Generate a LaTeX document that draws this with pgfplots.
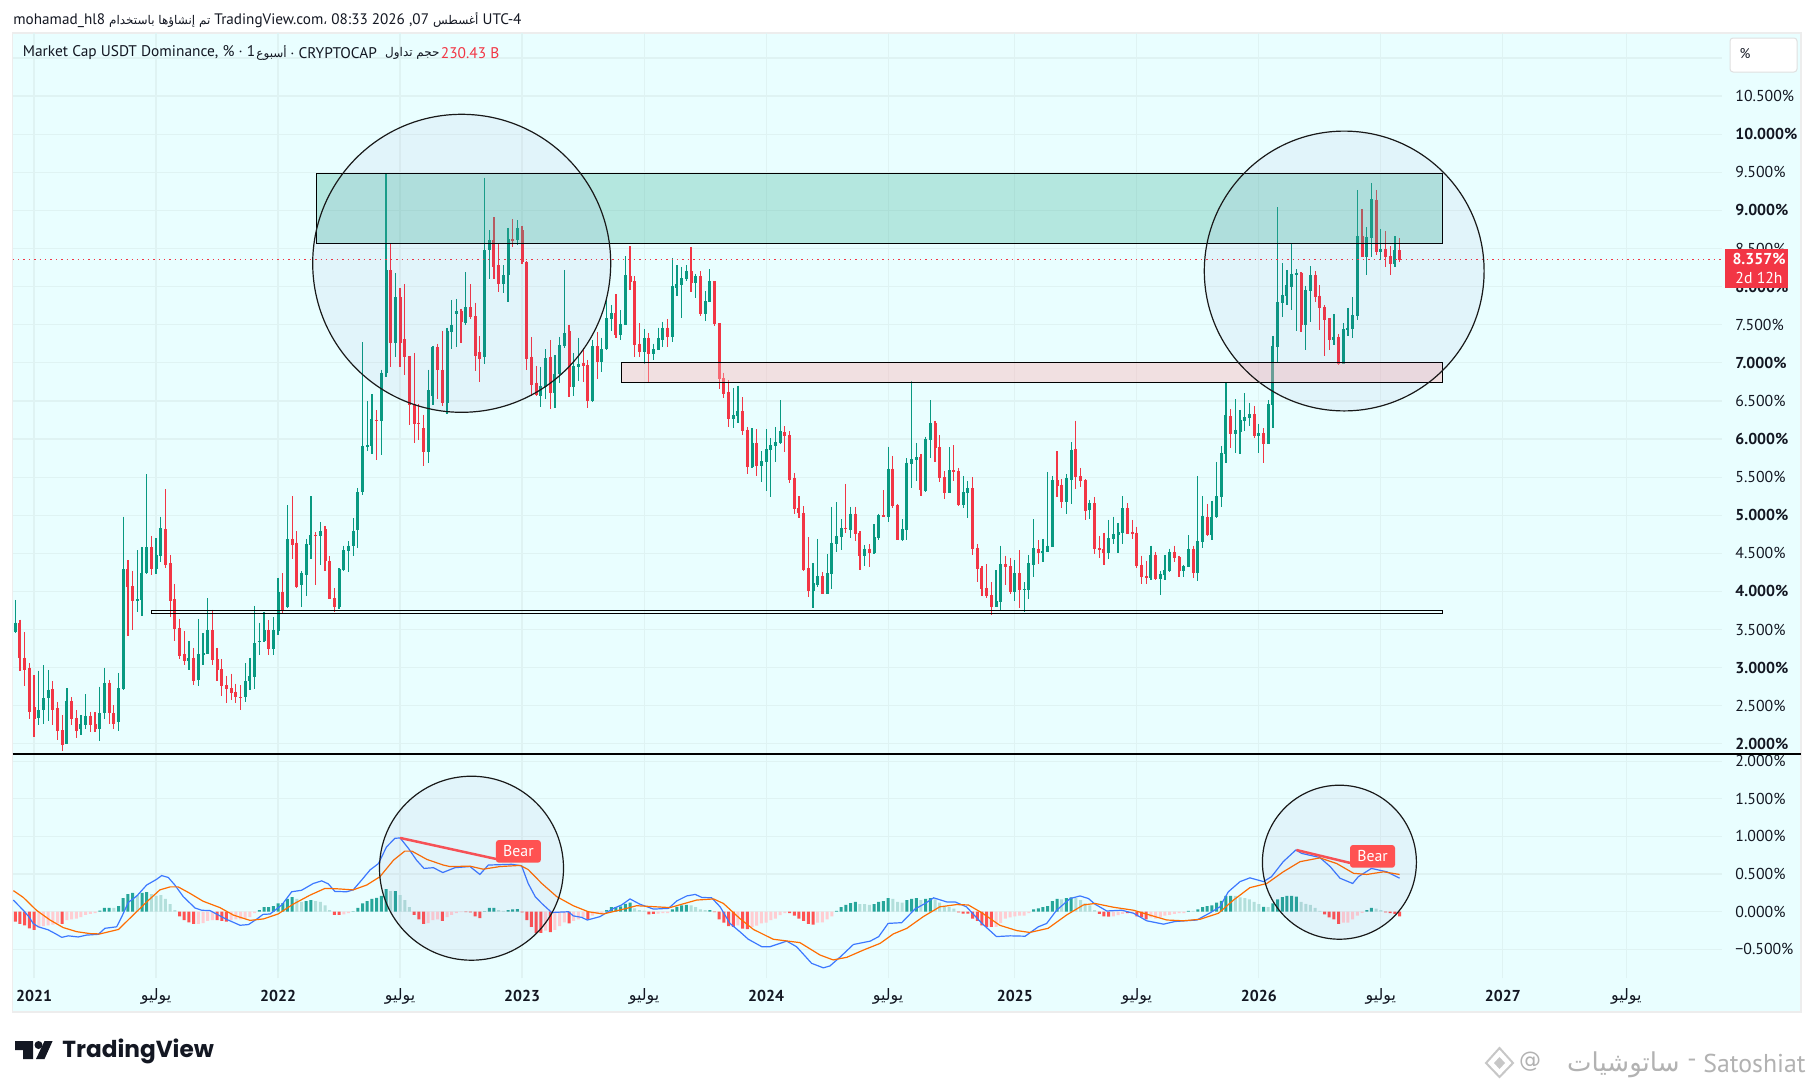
\documentclass[border=0pt]{standalone}
\usepackage{fontspec}
\usepackage{pgfplots}
\usepackage{pgfplotstable}
\pgfplotsset{compat=1.18}
\setmainfont{PT Sans}
\newfontfamily\arabicfont[Script=Arabic]{DejaVu Sans}
\newfontfamily\logofont{Poppins}
\TeXXeTstate=1
\newcommand\ar[1]{{\arabicfont\beginR #1\endR}}
\definecolor{panebg}{RGB}{233,254,255}
\definecolor{gridc}{RGB}{223,243,243}
\definecolor{cup}{RGB}{8,153,129}
\definecolor{cdn}{RGB}{242,54,69}
\definecolor{hgs}{RGB}{38,166,154}
\definecolor{hgl}{RGB}{178,223,219}
\definecolor{hrs}{RGB}{255,82,82}
\definecolor{hrl}{RGB}{255,205,210}
\definecolor{macdb}{RGB}{60,120,255}
\definecolor{macdo}{RGB}{255,109,0}
\definecolor{tealz}{RGB}{60,180,151}
\definecolor{pinkz}{RGB}{255,179,182}
\definecolor{circ}{RGB}{93,74,175}
\definecolor{txt}{RGB}{19,23,34}
\pgfplotstableread{
i h t b l
0 3.89 3.59 3.47 3.45
5 2.96 2.44 2.34 2.25
6 3.03 2.60 2.44 2.26
7 2.97 2.71 2.60 2.30
11 2.73 2.56 2.00 2.00
14 2.38 2.26 2.19 2.12
15 2.65 2.37 2.25 2.20
18 2.75 2.40 2.20 2.04
19 3.00 2.80 2.40 2.33
22 2.93 2.73 2.28 2.17
23 4.98 4.29 2.72 2.70
26 4.54 3.90 3.87 3.73
27 4.58 4.24 3.89 3.68
28 5.54 4.58 4.24 4.23
30 4.70 4.48 4.30 4.23
31 4.98 4.83 4.47 4.39
37 3.35 3.13 3.09 2.97
39 3.64 3.18 2.84 2.76
40 3.45 3.19 3.17 3.03
41 3.91 3.49 3.18 3.18
49 3.06 2.82 2.61 2.55
50 3.13 2.89 2.82 2.71
51 3.81 3.32 2.88 2.72
52 3.59 3.35 3.34 3.16
53 3.73 3.49 3.35 3.34
55 3.66 3.49 3.25 3.17
56 4.18 3.99 3.48 3.43
58 5.13 4.69 3.79 3.78
61 4.27 4.24 4.08 3.79
62 4.69 4.62 4.22 3.94
63 5.25 4.74 4.61 4.42
65 4.91 4.79 4.73 4.34
69 4.31 4.29 3.80 3.77
70 4.60 4.54 4.28 4.27
71 4.66 4.60 4.53 4.25
72 4.96 4.79 4.59 4.46
73 5.36 5.30 4.80 4.57
74 7.27 5.91 5.30 5.26
75 6.50 5.92 5.90 5.84
76 6.59 6.26 5.91 5.80
78 6.91 6.87 6.23 5.79
79 9.49 8.22 6.87 6.81
81 8.18 7.86 7.26 7.07
88 6.91 6.64 5.83 5.69
89 7.22 7.21 6.57 6.45
92 7.46 7.42 6.47 6.33
93 7.82 7.50 7.40 7.18
94 7.84 7.68 7.64 7.21
96 8.19 7.73 7.52 7.50
100 9.43 8.48 7.07 6.98
101 8.74 8.61 8.48 8.10
104 8.28 8.15 8.03 7.92
105 8.77 8.62 8.15 7.80
107 8.87 8.77 8.61 8.54
112 6.95 6.70 6.57 6.42
113 7.18 7.06 6.68 6.53
115 7.10 6.85 6.60 6.41
116 7.34 7.23 6.85 6.74
117 8.22 7.39 7.22 7.19
119 7.13 6.96 6.68 6.57
120 7.33 6.99 6.95 6.76
123 7.30 7.22 6.50 6.49
125 7.33 7.18 7.01 6.88
126 7.85 7.59 7.18 7.17
127 7.76 7.65 7.57 7.42
129 7.69 7.51 7.36 7.30
130 8.40 8.15 7.50 7.49
134 7.44 7.33 7.14 6.99
136 7.25 7.18 7.12 7.04
137 7.46 7.33 7.17 7.17
138 7.54 7.46 7.30 7.21
140 8.37 8.01 7.34 7.27
141 8.28 8.03 7.98 7.88
142 8.26 8.11 8.02 7.59
143 8.28 8.20 8.10 8.07
145 8.17 8.14 8.05 7.85
147 7.94 7.81 7.64 7.55
148 8.23 8.07 7.80 7.80
153 6.67 6.31 6.26 6.14
154 6.70 6.37 6.30 6.21
157 6.14 5.95 5.63 5.62
159 5.84 5.71 5.65 5.44
160 6.13 5.87 5.70 5.32
161 6.01 5.92 5.86 5.24
162 6.16 5.96 5.91 5.70
163 6.51 6.10 5.95 5.93
170 4.37 4.11 4.01 3.78
171 4.69 4.20 4.08 4.06
173 4.49 4.24 3.97 3.97
174 5.11 4.64 4.23 4.03
175 5.17 4.73 4.62 4.52
176 4.95 4.83 4.71 4.54
178 5.11 5.02 4.81 4.70
181 4.61 4.56 4.47 4.33
183 4.88 4.71 4.50 4.49
184 5.02 5.00 4.70 4.67
186 5.90 5.61 4.98 4.91
189 4.95 4.82 4.67 4.66
190 5.75 5.69 4.81 4.67
191 6.76 5.74 5.67 5.36
192 5.95 5.76 5.72 5.45
194 6.03 6.00 5.32 5.30
195 6.51 6.21 5.99 5.75
199 5.89 5.59 5.29 5.29
202 5.51 5.30 5.13 5.09
203 5.45 5.36 5.29 4.96
209 4.28 3.87 3.80 3.80
210 4.60 4.36 3.86 3.76
213 4.41 4.24 3.99 3.87
215 4.12 4.03 4.02 3.73
216 4.48 4.37 4.02 3.90
217 4.95 4.57 4.35 4.19
219 4.69 4.53 4.50 4.39
220 5.57 4.60 4.52 4.52
221 5.51 5.46 4.58 4.58
224 5.54 5.49 5.17 5.02
225 5.96 5.86 5.46 5.15
229 5.20 5.16 5.07 4.95
233 4.94 4.70 4.50 4.43
234 4.98 4.75 4.69 4.62
235 4.90 4.78 4.74 4.50
236 5.25 5.09 4.77 4.62
242 4.60 4.48 4.18 4.15
244 4.27 4.23 4.16 3.95
245 4.48 4.28 4.22 4.15
246 4.56 4.52 4.27 4.26
249 4.35 4.33 4.27 4.19
250 4.74 4.56 4.32 4.32
252 5.51 4.66 4.24 4.14
253 5.25 4.99 4.65 4.57
255 5.19 4.98 4.74 4.68
256 5.70 5.25 4.97 4.96
257 5.91 5.82 5.24 5.11
258 6.75 6.32 5.80 5.69
260 6.52 6.12 6.07 5.82
261 6.38 6.25 6.09 5.80
262 6.60 6.29 6.24 6.11
263 6.47 6.33 6.28 6.17
265 6.20 6.08 6.04 5.82
267 6.51 6.46 5.93 5.93
268 7.35 7.22 6.45 6.14
269 9.04 7.80 7.21 7.00
270 8.31 7.89 7.78 7.60
271 8.22 8.02 7.88 7.76
272 8.57 8.17 7.99 7.69
273 8.23 8.18 8.15 7.42
275 8.01 7.96 7.50 7.17
276 8.27 8.15 7.94 7.54
281 7.64 7.34 7.30 7.23
283 7.52 7.44 6.98 6.98
284 7.72 7.46 7.43 7.35
285 7.86 7.63 7.44 7.33
286 9.27 8.66 7.61 7.56
288 8.78 8.65 8.39 8.15
289 9.36 9.15 8.64 8.39
291 8.76 8.49 8.45 8.35
294 8.66 8.48 8.30 8.26
}\candup
\pgfplotstableread{
i h t b l
1 3.63 3.59 3.12 2.96
2 3.47 3.13 2.97 2.76
3 3.06 3.00 2.42 2.32
4 2.90 2.48 2.33 2.09
8 2.82 2.72 2.45 2.25
9 2.55 2.47 2.17 2.05
10 2.38 2.18 1.99 1.91
12 2.61 2.56 2.33 2.25
13 2.44 2.34 2.17 2.07
16 2.42 2.37 2.25 2.16
17 2.42 2.26 2.20 2.16
20 2.84 2.80 2.40 2.26
21 2.51 2.40 2.26 2.20
24 4.41 4.29 4.06 3.42
25 4.27 4.07 3.87 3.50
29 4.73 4.58 4.30 4.22
32 5.34 4.82 4.35 4.31
33 4.48 4.37 3.88 3.66
34 4.10 3.90 3.51 3.35
35 3.64 3.52 3.15 3.11
36 3.48 3.18 3.09 3.03
38 3.26 3.13 2.82 2.77
42 3.76 3.49 3.10 3.04
43 3.26 3.11 2.97 2.82
44 3.11 2.98 2.76 2.63
45 2.89 2.77 2.72 2.53
46 2.92 2.73 2.67 2.58
47 2.79 2.68 2.61 2.53
48 2.77 2.61 2.60 2.45
54 3.62 3.49 3.25 3.17
57 4.24 3.99 3.76 3.71
59 5.25 4.69 4.61 4.43
60 4.79 4.64 4.06 4.05
64 4.78 4.74 4.73 4.08
66 4.86 4.82 4.40 4.27
67 4.46 4.40 3.90 3.90
68 4.04 3.91 3.80 3.73
77 6.38 6.25 6.23 5.72
80 8.57 8.22 7.26 6.94
82 7.98 7.86 7.26 6.95
83 8.03 7.31 7.08 6.84
84 7.09 7.09 6.45 6.18
85 7.13 6.46 6.20 5.95
86 6.46 6.21 6.20 5.99
87 6.32 6.14 5.83 5.65
90 7.25 7.21 6.90 6.53
91 7.42 6.91 6.47 6.43
95 7.71 7.68 7.54 7.26
97 8.03 7.73 7.60 7.57
98 7.79 7.61 7.09 6.89
99 7.35 7.14 7.05 6.75
102 8.91 8.61 8.26 8.10
103 8.56 8.28 8.03 7.93
106 8.89 8.62 8.60 8.52
108 8.80 8.74 8.32 8.30
109 8.33 8.32 7.05 6.90
110 7.34 7.08 6.71 6.56
111 6.96 6.74 6.58 6.57
114 7.30 7.08 6.60 6.39
118 7.50 7.42 6.68 6.55
121 7.19 7.00 6.96 6.75
122 7.04 6.97 6.50 6.41
124 7.40 7.22 7.01 6.79
128 7.90 7.65 7.36 7.33
131 8.53 8.14 8.06 7.96
132 8.14 8.07 7.23 7.08
133 7.52 7.25 7.14 7.08
135 7.39 7.33 7.12 6.73
139 7.57 7.46 7.34 7.21
144 8.52 8.20 8.05 7.93
146 8.20 8.14 7.64 7.61
149 8.07 8.07 7.51 7.48
150 7.52 7.52 6.79 6.66
151 6.87 6.80 6.59 6.54
152 6.77 6.62 6.26 6.16
155 6.55 6.37 6.10 6.05
156 6.16 6.12 5.63 5.54
158 6.13 5.95 5.65 5.51
164 6.17 6.09 6.04 5.83
165 6.10 6.05 5.46 5.42
166 5.55 5.49 5.08 5.02
167 5.25 5.09 5.03 4.96
168 5.12 5.03 4.28 4.27
169 4.71 4.31 4.01 3.93
172 4.25 4.20 3.97 3.97
177 5.41 4.83 4.82 4.77
179 5.11 5.02 4.75 4.66
180 4.79 4.77 4.47 4.28
182 4.62 4.56 4.50 4.32
185 5.33 5.00 4.98 4.98
187 5.78 5.61 5.12 5.10
188 5.15 5.13 4.67 4.67
193 5.80 5.76 5.33 5.25
196 6.24 6.21 5.88 5.70
197 6.05 5.89 5.49 5.44
198 5.58 5.50 5.29 5.21
200 5.92 5.59 5.57 5.45
201 5.62 5.58 5.13 5.12
204 5.50 5.36 4.56 4.48
205 4.62 4.57 4.29 4.12
206 4.33 4.31 4.03 3.94
207 4.36 4.04 3.94 3.91
208 4.12 3.95 3.80 3.69
211 4.47 4.36 4.32 4.08
212 4.44 4.33 3.99 3.97
214 4.54 4.24 4.02 3.78
218 4.67 4.56 4.50 4.36
222 5.84 5.46 5.38 5.24
223 5.47 5.40 5.17 5.09
226 6.24 5.87 5.50 5.34
227 5.62 5.51 5.45 5.37
228 5.47 5.46 5.06 4.94
230 5.24 5.16 4.56 4.49
231 4.73 4.57 4.54 4.44
232 4.77 4.56 4.50 4.35
237 5.16 5.09 4.75 4.75
238 4.94 4.78 4.75 4.69
239 4.85 4.77 4.33 4.31
240 4.47 4.35 4.19 4.10
241 4.40 4.20 4.18 4.10
243 4.52 4.48 4.16 4.15
247 4.60 4.52 4.44 4.39
248 4.47 4.45 4.27 4.19
251 4.60 4.56 4.24 4.18
254 5.15 4.98 4.74 4.73
259 6.39 6.30 6.07 5.88
264 6.43 6.33 6.04 6.01
266 6.14 6.08 5.93 5.69
274 8.19 8.18 7.50 7.40
277 8.20 8.15 7.86 7.80
278 8.02 7.88 7.72 7.43
279 7.76 7.73 7.56 7.09
280 7.59 7.59 7.30 7.17
282 7.38 7.34 6.98 6.97
287 9.02 8.66 8.39 8.39
290 9.27 9.14 8.45 8.41
292 8.73 8.49 8.39 8.26
293 8.53 8.40 8.30 8.15
295 8.64 8.48 8.35 8.32
}\canddn
\pgfplotsset{
  tvaxis/.style={
    scale only axis, width=854.65pt,
    xmin=-0.554, xmax=363.71,
    enlargelimits=false, clip=true,
    axis line style={draw=none}, major tick length=0pt,
    xtick={4,30,56,82,108,134,160,186,213,239,265,291,317,343.3},
    xmajorgrids, ymajorgrids,
    grid style={gridc,line width=0.6pt},
    yticklabel pos=right,
    yticklabel style={anchor=west,inner sep=0pt,xshift=6.5pt,text=txt,font=\fontsize{7.9}{9}\selectfont},
  },
  wick/.style={draw=none,mark=none,forget plot,error bars/.cd,y dir=minus,y explicit,error mark=none,error bar style={solid,line width=0.6pt,#1}},
  body/.style={draw=none,mark=none,forget plot,error bars/.cd,y dir=minus,y explicit,error mark=none,error bar style={solid,line width=1.5pt,#1}},
  hbar/.style={ybar,bar width=1.5pt,bar shift=0pt,draw=none,fill=#1,forget plot},
}
\begin{document}
\begin{tikzpicture}
\path[use as bounding box] (0,0) rectangle (907pt,-544pt);
\fill[white] (0,0) rectangle (907pt,-544pt);
\begin{scope}[x=0.5pt,y=-0.5pt]
\fill[panebg] (12.7,33) rectangle (1801,1012);
\draw[black!7,line width=0.6pt] (12.7,33) rectangle (1801,1012);
\end{scope}
% price pane
\begin{axis}[tvaxis,at={(6.35pt,-16.5pt)},anchor=north west,height=360pt,
  ymin=1.879,ymax=11.328,xticklabels={},
  ytick={2,2.5,...,11},
  yticklabels={\textbf{2.000\%},2.500\%,\textbf{3.000\%},3.500\%,\textbf{4.000\%},4.500\%,\textbf{5.000\%},5.500\%,\textbf{6.000\%},6.500\%,\textbf{7.000\%},7.500\%,\textbf{8.000\%},8.500\%,\textbf{9.000\%},9.500\%,\textbf{10.000\%},10.500\%,{}},
]
\addplot[wick=cup] table[x=i,y=h,y error minus expr=\thisrow{h}-\thisrow{l}] {\candup};
\addplot[wick=cdn] table[x=i,y=h,y error minus expr=\thisrow{h}-\thisrow{l}] {\canddn};
\addplot[body=cup] table[x=i,y=t,y error minus expr=\thisrow{t}-\thisrow{b}] {\candup};
\addplot[body=cdn] table[x=i,y=t,y error minus expr=\thisrow{t}-\thisrow{b}] {\canddn};
\addplot[cdn,line width=0.5pt,dash pattern=on 0.7pt off 2pt,forget plot] coordinates {(-0.554,8.357) (363.71,8.357)};
\draw[black,line width=0.55pt,fill=tealz,fill opacity=0.3] (axis cs:64.15,9.49) rectangle (axis cs:304.1,8.57);
\draw[black,line width=0.55pt,fill=pinkz,fill opacity=0.4] (axis cs:129.1,7.0) rectangle (axis cs:304.1,6.74);
\draw[black,line width=0.55pt] (axis cs:29.0,3.752) rectangle (axis cs:304.1,3.713);
\end{axis}
% MACD pane
\begin{axis}[tvaxis,at={(6.35pt,-377.5pt)},anchor=north west,height=111.5pt,
  ymin=-0.880,ymax=2.081,
  ytick={-0.5,0,0.5,1,1.5,2},
  yticklabels={−0.500\%,0.000\%,0.500\%,1.000\%,1.500\%,2.000\%},
  xticklabels={\textbf{2021},\ar{يوليو},\textbf{2022},\ar{يوليو},\textbf{2023},\ar{يوليو},\textbf{2024},\ar{يوليو},\textbf{2025},\ar{يوليو},\textbf{2026},\ar{يوليو},\textbf{2027},\ar{يوليو}},
  xticklabel style={anchor=center,yshift=-9pt,text=txt,font=\fontsize{7.9}{9}\selectfont},
]
\addplot[hbar=hrs] coordinates {(0,-.13)(1,-.16)(2,-.18)(3,-.22)(4,-.24)(10,-.16)(35,-.06)(36,-.11)(37,-.14)(38,-.16)(43,-.11)(44,-.12)(45,-.13)(68,-.04)(69,-.04)(85,-.04)(86,-.10)(87,-.16)(91,-.12)(96,-.005)(97,-.01)(98,-.06)(99,-.085)(108,-.01)(109,-.11)(110,-.20)(111,-.28)(112,-.28)(114,-.27)(118,-.155)(122,-.10)(135,-.035)(136,-.03)(149,-.005)(150,-.10)(151,-.145)(152,-.19)(153,-.20)(155,-.225)(156,-.23)(165,-.02)(166,-.05)(167,-.09)(168,-.12)(169,-.16)(170,-.17)(201,-.01)(202,-.025)(203,-.025)(204,-.09)(205,-.12)(206,-.18)(207,-.20)(208,-.20)(231,-.03)(232,-.06)(233,-.065)(237,-.02)(239,-.06)(240,-.075)(241,-.10)(279,-.035)(280,-.075)(281,-.10)(282,-.16)(292,-.01)(293,-.02)(294,-.03)(295,-.06)};
\addplot[hbar=hrl] coordinates {(5,-.21)(6,-.19)(7,-.18)(8,-.17)(9,-.155)(11,-.11)(12,-.10)(13,-.09)(14,-.07)(15,-.04)(16,-.03)(17,-.02)(39,-.16)(40,-.15)(41,-.12)(42,-.11)(46,-.11)(47,-.10)(48,-.10)(49,-.09)(50,-.07)(51,-.02)(70,-.035)(71,-.02)(88,-.15)(89,-.11)(90,-.10)(92,-.07)(93,-.04)(94,-.02)(95,-.005)(113,-.25)(115,-.24)(116,-.19)(117,-.14)(119,-.12)(120,-.10)(121,-.07)(123,-.05)(124,-.03)(125,-.02)(137,-.025)(138,-.02)(139,-.02)(154,-.18)(157,-.20)(158,-.185)(159,-.155)(160,-.145)(161,-.11)(162,-.09)(163,-.045)(164,-.02)(171,-.145)(172,-.14)(173,-.10)(174,-.06)(209,-.20)(210,-.15)(211,-.09)(212,-.075)(213,-.06)(214,-.05)(215,-.05)(216,-.02)(234,-.06)(235,-.045)(236,-.03)(238,-.02)(242,-.075)(243,-.09)(244,-.075)(245,-.05)(246,-.04)(247,-.03)(248,-.02)(249,-.02)(283,-.145)(284,-.145)(285,-.10)(286,-.05)(287,-.015)};
\addplot[hbar=hgs] coordinates {(18,.015)(19,.05)(20,.05)(22,.075)(23,.18)(24,.235)(25,.25)(27,.25)(28,.26)(52,.02)(53,.06)(54,.06)(55,.075)(56,.11)(57,.115)(58,.17)(59,.195)(62,.14)(63,.155)(72,.005)(73,.05)(74,.11)(75,.14)(76,.17)(77,.185)(78,.21)(79,.30)(81,.275)(100,.005)(101,.05)(102,.05)(105,.02)(106,.03)(107,.035)(126,.02)(127,.06)(128,.06)(129,.07)(130,.105)(131,.12)(140,.03)(141,.065)(142,.085)(143,.09)(148,.02)(175,.01)(176,.06)(177,.09)(178,.115)(179,.13)(183,.10)(184,.13)(185,.14)(186,.18)(190,.155)(191,.17)(192,.18)(194,.17)(195,.18)(217,.03)(218,.045)(219,.06)(220,.075)(221,.14)(222,.17)(224,.18)(225,.19)(250,.01)(252,.03)(253,.06)(254,.075)(255,.085)(256,.12)(257,.145)(258,.21)(259,.21)(266,.065)(268,.11)(269,.165)(270,.195)(271,.21)(272,.21)(273,.20)(288,.02)(289,.05)};
\addplot[hbar=hgl] coordinates {(21,.05)(26,.22)(29,.235)(30,.21)(31,.22)(32,.17)(33,.10)(34,.02)(60,.17)(61,.13)(64,.14)(65,.13)(66,.085)(67,.02)(80,.275)(82,.22)(83,.155)(84,.06)(103,.02)(104,.01)(132,.045)(133,.02)(134,.015)(144,.085)(145,.06)(146,.03)(147,.02)(180,.10)(181,.10)(182,.09)(187,.17)(188,.13)(189,.12)(193,.155)(196,.165)(197,.12)(198,.075)(199,.06)(200,.04)(223,.165)(226,.18)(227,.155)(228,.11)(229,.085)(230,.02)(251,.01)(260,.21)(261,.19)(262,.18)(263,.165)(264,.13)(265,.10)(267,.06)(274,.13)(275,.105)(276,.09)(277,.05)(278,.01)(290,.04)(291,.02)};
\addplot[macdb,line width=0.6pt,forget plot] coordinates {(-.43,.155)(1.7,.02)(3,-.075)(3.8,-.155)(4.9,-.20)(7,-.24)(8.5,-.29)(9.9,-.34)(11.3,-.32)(13.4,-.335)(15.2,-.31)(17.7,-.30)(19.1,-.22)(21.6,-.20)(22.7,-.065)(24.1,.125)(25.9,.21)(28,.355)(30.1,.43)(31.2,.48)(32.6,.455)(34,.355)(35.8,.20)(38.3,.05)(39.7,.02)(41.5,.015)(45,-.10)(47.9,-.18)(49.7,-.17)(51.4,-.10)(52.8,-.035)(54.3,-.03)(56.8,.09)(58.9,.265)(61,.285)(63.5,.375)(65.3,.41)(66.7,.37)(68.1,.27)(70.6,.265)(72,.29)(73.8,.42)(75.6,.555)(77.4,.64)(79.1,.86)(80.9,.975)(82,.98)(83.8,.84)(85.5,.685)(87.1,.575)(89.1,.585)(91.1,.52)(93.7,.585)(96.9,.60)(99,.495)(100.8,.62)(103.3,.625)(105.8,.63)(107.9,.61)(109.3,.375)(110.8,.20)(112.2,.11)(114.3,-.01)(117.9,0)(118.9,-.055)(120.7,-.075)(121.9,-.11)(124.6,-.065)(127.5,.045)(129.2,.09)(131,.17)(133.1,.10)(136,.035)(139.2,.045)(141,.145)(143.1,.21)(144.9,.23)(146.3,.19)(148.4,.185)(150.2,.065)(152.3,-.155)(154.4,-.265)(156.2,-.365)(159.1,-.465)(160.8,-.465)(164.4,-.39)(166.5,-.465)(169.7,-.685)(172.2,-.745)(173.6,-.72)(175.8,-.60)(178.6,-.435)(182.2,-.39)(184,-.33)(186,-.155)(188.9,-.145)(191.7,.035)(193.9,.11)(195.7,.185)(198.5,.13)(200.3,.13)(202.7,.065)(206,-.155)(209.1,-.33)(212,-.32)(215.2,-.325)(218,-.20)(219.8,-.155)(221.9,.02)(224.8,.175)(226.9,.21)(228.7,.175)(230.1,.10)(232.6,.01)(235.8,.02)(238.3,-.02)(241.1,-.12)(244.7,-.165)(247.1,-.13)(251.8,-.11)(254.6,-.015)(256.7,.065)(258.5,.265)(261,.40)(263.1,.45)(266,.40)(267.7,.465)(270.2,.665)(272.9,.82)(274.1,.775)(278,.72)(280.2,.60)(282.3,.445)(285,.375)(286.2,.465)(289,.575)(292.3,.53)(295,.445)};
\addplot[macdo,line width=0.6pt,forget plot] coordinates {(-.4,.28)(1.7,.19)(4.5,.02)(7.4,-.11)(10.2,-.21)(13.1,-.265)(15.9,-.29)(18,-.295)(22,-.235)(25.1,-.045)(28,.13)(30.8,.29)(33,.33)(34.7,.33)(37.2,.245)(40,.14)(43.6,.055)(46.5,-.045)(50,-.115)(52.9,-.095)(56,-.03)(59.2,.10)(62.8,.22)(66,.31)(68.5,.305)(72,.29)(74.9,.355)(77.7,.465)(80.6,.685)(83,.805)(84.5,.805)(87.7,.695)(91.2,.62)(92.6,.60)(96.9,.605)(99.7,.565)(103.3,.60)(107.6,.615)(109.3,.56)(112.2,.375)(115.4,.20)(118.9,.08)(122.1,0)(125.3,-.03)(130.3,.045)(132.4,.08)(139.5,.055)(145.2,.155)(148.8,.17)(150.9,.11)(154.4,-.09)(157.3,-.235)(161.5,-.365)(167.2,-.41)(171.5,-.575)(174.3,-.64)(177.2,-.605)(180.7,-.51)(184.3,-.42)(187.1,-.295)(190,-.22)(193.5,-.065)(197,.065)(200.6,.095)(203.1,.09)(206,-.015)(209.8,-.18)(213.4,-.25)(216.2,-.275)(220.1,-.22)(224,-.045)(227.6,.09)(230.1,.11)(234,.06)(238.3,.02)(241.8,-.045)(245.4,-.11)(248.9,-.12)(252.5,-.10)(256.4,-.02)(259.6,.155)(263.1,.32)(266.7,.375)(270.2,.53)(273.8,.665)(278,.715)(281.6,.64)(285.2,.51)(288,.495)(291.6,.53)(295,.495)};
\addplot[hrs,line width=1.25pt,forget plot] coordinates {(82,.98)(102.5,.70)};
\addplot[hrs,line width=1.25pt,forget plot] coordinates {(273,.82)(285,.64)};
\end{axis}
% overlays in reference pixels
\begin{scope}[x=0.5pt,y=-0.5pt]
\draw[black,line width=0.7pt] (12.7,754) -- (1801,754);
\foreach \cx/\cy/\r in {461.7/263.3/149,1344.2/271/139.9,471.5/868.2/92,1339.4/862.2/77}{
  \fill[circ,fill opacity=0.05] (\cx,\cy) circle[radius=\r*0.5pt];
  \draw[black!90,line width=0.6pt] (\cx,\cy) circle[radius=\r*0.5pt];
}
\fill[hrs,rounded corners=1.5pt] (495.9,840) rectangle (540.9,862.7);
\node[white,font=\fontsize{7.9}{9}\selectfont] at (518.4,850.5) {Bear};
\fill[hrs,rounded corners=1.5pt] (1350,845) rectangle (1395,867.7);
\node[white,font=\fontsize{7.9}{9}\selectfont] at (1372.5,855.5) {Bear};
% price tag
\fill[cdn] (1725,249) rectangle (1788,287.7);
\node[white,font=\bfseries\fontsize{7.9}{9}\selectfont,anchor=center] at (1759,259.3) {8.357\%};
\node[white,font=\fontsize{7.9}{9}\selectfont,anchor=center] at (1759,277.7) {2d 12h};
% percent box
\draw[black!12,fill=white,rounded corners=1.5pt,line width=0.5pt] (1730,38) rectangle (1797,72);
\node[text=txt,font=\fontsize{7}{8}\selectfont] at (1745,54) {\%};
% header
\node[anchor=west,inner sep=0pt,text=txt,font=\fontsize{7.6}{9}\selectfont] at (13,20) {mohamad\_hl8 {\fontsize{6}{8}\selectfont\ar{تم إنشاؤها باستخدام}} TradingView.com{\fontsize{6}{8}\selectfont\arabicfont ،} 08:33 2026 ,07 {\fontsize{6}{8}\selectfont\ar{أغسطس}} UTC-4};
\node[anchor=west,inner sep=0pt,text=txt,font=\fontsize{7.7}{9}\selectfont] at (22.5,53) {Market Cap USDT Dominance, \% · 1};
\node[anchor=west,inner sep=0pt,text=txt,font=\fontsize{6}{8}\selectfont] at (256,53) {\ar{أسبوع}};
\node[anchor=west,inner sep=0pt,text=txt,font=\fontsize{7.7}{9}\selectfont] at (290,53) {· CRYPTOCAP};
\node[anchor=east,inner sep=0pt,text=txt,font=\fontsize{6}{8}\selectfont] at (440,53) {\ar{حجم تداول}};
\node[anchor=west,inner sep=0pt,text=cdn,font=\fontsize{7.7}{9}\selectfont] at (440.5,53) {230.43 B};
% logo
\fill[txt] (15,1041) -- (33,1041) -- (33,1059) -- (23,1059) -- (23,1050) -- (15,1050) -- cycle;
\fill[txt] (38.5,1045) circle[radius=2pt];
\fill[txt] (44.5,1041) -- (52.6,1041) -- (44.5,1059) -- (36,1059) -- cycle;
\node[anchor=west,inner sep=0pt,text=txt,font=\logofont\bfseries\fontsize{11.6}{15}\selectfont] at (62,1051) {TradingView};
% watermark
\node[anchor=west,inner sep=0pt,text=black!30,font=\fontsize{12.9}{15}\selectfont] at (1703,1063) {Satoshiat};
\node[anchor=west,inner sep=0pt,text=black!30,font=\fontsize{12.9}{15}\selectfont] at (1687,1063) {-};
\node[anchor=east,inner sep=0pt,text=black!30,font=\fontsize{13}{15}\selectfont] at (1680,1065) {\ar{ساتوشيات}};
\node[inner sep=0pt,text=black!30,font=\arabicfont\fontsize{11}{13}\selectfont] at (1530,1062) {@};
\draw[black!22,line width=1pt] (1499.5,1048) -- (1513,1063) -- (1499.5,1077) -- (1486,1063) -- cycle;
\fill[black!22] (1499.5,1057) -- (1505,1063) -- (1499.5,1069) -- (1494,1063) -- cycle;
\end{scope}
\end{tikzpicture}
\end{document}
